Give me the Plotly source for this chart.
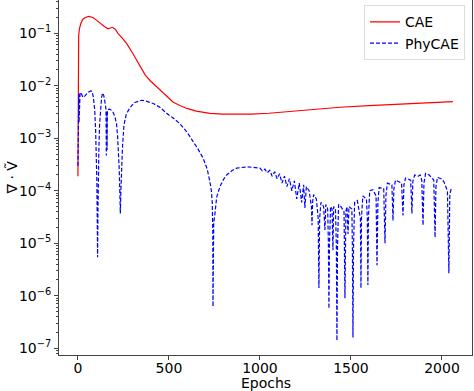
import plotly.graph_objects as go

# CAE (red, solid)
cae_epoch = [0, 1, 2, 4, 8, 15, 27, 40, 60, 82, 100, 121, 145, 165, 178, 190, 205, 220, 245,
             269, 300, 341, 370, 396, 425, 451, 490, 522, 560, 599, 650, 725, 800, 870, 950,
             1050, 1220, 1300, 1440, 1600, 1800, 1950, 2060]
cae_value = [1.9e-4, 3e-3, 0.04, 0.09, 0.12, 0.15, 0.185, 0.2, 0.21, 0.20, 0.18, 0.155, 0.135,
             0.122, 0.125, 0.13, 0.12, 0.10, 0.08, 0.063, 0.042, 0.023, 0.016, 0.0126, 0.0102,
             0.0082, 0.0062, 0.0049, 0.0042, 0.0037, 0.0033, 0.00298, 0.00288, 0.00284,
             0.00288, 0.0030, 0.0034, 0.00355, 0.0039, 0.0042, 0.00455, 0.0048, 0.0050]

# PhyCAE (blue, dashed)
phy_epoch = [0, 1, 2, 3, 4, 5, 6, 8, 12, 18, 28, 40, 55, 70, 78, 85, 92, 97, 101, 104, 106,
             108, 110, 112, 115, 119, 124, 130, 136, 142, 148, 154, 156, 157, 158, 159, 160,
             162, 172, 185, 194, 204, 212, 218, 223, 227, 230, 233, 236, 240, 245, 253, 265,
             277, 295, 313, 330, 350, 375, 414, 450, 487, 525, 560, 600, 634, 660, 689, 710,
             725, 733, 738, 741, 742, 743, 746, 753, 762, 780, 800, 817, 845, 872, 900, 927,
             960, 1000, 1013, 1027, 1040, 1054, 1067, 1081, 1094, 1108, 1121, 1135, 1148,
             1162, 1175, 1189, 1202, 1216, 1229, 1240, 1247, 1255, 1270, 1283, 1286, 1289,
             1295, 1310, 1320, 1324, 1328, 1335, 1350, 1357, 1362, 1372, 1376, 1379, 1382,
             1388, 1396, 1401, 1405, 1415, 1420, 1423, 1426, 1432, 1445, 1462, 1467, 1472,
             1478, 1484, 1489, 1505, 1508, 1511, 1514, 1520, 1535, 1552, 1555, 1558, 1565,
             1585, 1590, 1593, 1596, 1603, 1620, 1638, 1643, 1648, 1655, 1680, 1687, 1692,
             1700, 1725, 1731, 1736, 1745, 1778, 1786, 1791, 1800, 1828, 1835, 1840, 1850,
             1870, 1880, 1889, 1896, 1901, 1910, 1930, 1955, 1962, 1967, 1975, 1995, 2010,
             2030, 2038, 2043, 2050]
phy_value = [3.0e-4, 6.5e-3, 5e-4, 7e-3, 1e-3, 7e-3, 2e-3, 7.2e-3, 7.5e-3, 7.2e-3, 6.0e-3,
             6.5e-3, 7.5e-3, 8.0e-3, 7.8e-3, 6.0e-3, 3.5e-3, 1.5e-3, 5.7e-4, 1.5e-4, 3e-5,
             5.4e-6, 4e-5, 2e-4, 6e-4, 1.8e-3, 3.5e-3, 6.0e-3, 7.3e-3, 6.5e-3, 5.0e-3, 3.6e-3,
             4.7e-4, 3.3e-3, 5e-4, 3.3e-3, 6e-4, 3.5e-3, 3.6e-3, 3.4e-3, 3.1e-3, 2.5e-3,
             1.9e-3, 1.1e-3, 5.8e-4, 2.5e-4, 1.0e-4, 3.7e-5, 1.0e-4, 3e-4, 7e-4, 1.8e-3,
             2.8e-3, 3.4e-3, 4.2e-3, 4.8e-3, 5.1e-3, 5.3e-3, 5.1e-3, 4.6e-3, 3.9e-3, 3.0e-3,
             2.4e-3, 1.9e-3, 1.3e-3, 8.7e-4, 6.2e-4, 4.1e-4, 2.6e-4, 1.5e-4, 1.0e-4, 6e-5,
             1.5e-5, 6.2e-7, 1.2e-5, 2.5e-5, 3.7e-5, 7.5e-5, 1.2e-4, 1.65e-4, 2.0e-4, 2.4e-4,
             2.7e-4, 2.8e-4, 2.85e-4, 2.8e-4, 2.7e-4, 2.4e-4, 2.6e-4, 2.2e-4, 2.45e-4, 1.9e-4,
             2.3e-4, 1.7e-4, 2.1e-4, 1.4e-4, 1.9e-4, 1.2e-4, 1.7e-4, 1.0e-4, 1.55e-4, 7e-5,
             1.4e-4, 6e-5, 1.3e-4, 4.7e-5, 1.2e-4, 1.0e-4, 5e-5, 2.2e-5, 6e-5, 8.5e-5, 7e-5,
             3e-5, 1.4e-6, 3e-5, 6e-5, 5e-5, 1.8e-5, 5.5e-5, 4.5e-5, 1e-5, 5.7e-7, 1e-5, 5e-5,
             4.5e-5, 7.4e-6, 5e-5, 4.5e-5, 8e-6, 1.4e-7, 8e-6, 5.5e-5, 5e-5, 4e-5, 9e-7, 4e-5,
             5e-5, 1.5e-5, 5e-5, 4.5e-5, 8e-6, 1.6e-7, 8e-6, 6e-5, 6.5e-5, 3e-5, 1.4e-6, 3e-5,
             8e-5, 7e-5, 3e-5, 1.6e-6, 3e-5, 1.0e-4, 1.05e-4, 8e-5, 3.8e-6, 6e-5, 1.15e-4,
             1.1e-4, 1e-5, 8e-5, 1.4e-4, 1.3e-4, 2.7e-5, 1.1e-4, 1.6e-4, 1.4e-4, 3.4e-5,
             1.3e-4, 1.75e-4, 1.6e-4, 3.7e-5, 1.5e-4, 2.0e-4, 1.9e-4, 2.0e-4, 1.6e-4, 2.2e-5,
             1.4e-4, 2.15e-4, 2.0e-4, 1.6e-4, 1.3e-5, 1.2e-4, 1.8e-4, 1.7e-4, 1.5e-4, 1.0e-4,
             2.7e-6, 8e-5, 1.1e-4]

x_ticks = [0, 500, 1000, 1500, 2000]
y_ticks = [1e-7, 1e-6, 1e-5, 1e-4, 1e-3, 1e-2, 1e-1]
y_ticktext = ["10<sup>\u22127</sup>", "10<sup>\u22126</sup>", "10<sup>\u22125</sup>",
              "10<sup>\u22124</sup>", "10<sup>\u22123</sup>", "10<sup>\u22122</sup>",
              "10<sup>\u22121</sup>"]
minor_y = [m * 10.0 ** k for k in range(-8, 0) for m in range(2, 10)]

FONT = "DejaVu Sans"
AX = "#444444"

fig = go.Figure()
fig.add_trace(go.Scatter(x=cae_epoch, y=cae_value, mode="lines", name="CAE",
                         line=dict(color="#ff0000", width=1.2)))
fig.add_trace(go.Scatter(x=phy_epoch, y=phy_value, mode="lines", name="PhyCAE",
                         line=dict(color="#0000ff", width=1.2, dash="4px,2px")))

fig.update_layout(
    width=474, height=391,
    margin=dict(l=59, r=2, t=0, b=36, autoexpand=False),
    paper_bgcolor="white", plot_bgcolor="white",
    font=dict(family=FONT, size=14, color="black"),
    showlegend=True,
    legend=dict(x=0.983, y=0.985, xanchor="right", yanchor="top",
                bgcolor="white", bordercolor="#dddddd", borderwidth=1,
                font=dict(size=14), tracegroupgap=0),
    xaxis=dict(range=[-104, 2165], tickvals=x_ticks, ticks="outside", ticklen=4,
               tickcolor=AX, showline=True, linecolor=AX, linewidth=1, mirror=False,
               showgrid=False, zeroline=False, automargin=False, ticklabelstandoff=-4),
    yaxis=dict(type="log", range=[-7.128, -0.366], tickvals=y_ticks, ticktext=y_ticktext,
               ticks="outside", ticklen=4, tickcolor=AX, showline=True, linecolor=AX,
               linewidth=1, mirror=True, showgrid=False, zeroline=False, automargin=False,
               minor=dict(tickmode="array", tickvals=minor_y, ticks="outside", ticklen=2,
                          tickcolor=AX)),
    annotations=[
        dict(text="Epochs", xref="paper", yref="paper", x=0.5, y=-0.079,
             xanchor="center", yanchor="middle", showarrow=False, font=dict(size=14)),
        dict(text="\u2207 \u00b7 V\u0303", xref="paper", yref="paper", x=-0.114, y=0.5,
             xanchor="center", yanchor="middle", textangle=-90, showarrow=False,
             font=dict(size=14)),
    ],
)

fig.write_html("out.html", config={"displayModeBar": False},
               post_script="document.body.style.margin='0px';document.body.style.overflow='hidden';")
